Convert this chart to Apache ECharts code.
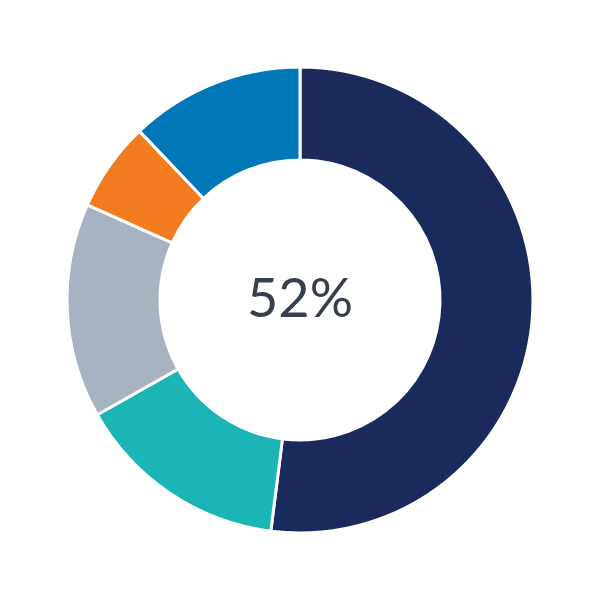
<!DOCTYPE html>
<html><head><meta charset="utf-8">
<script src="https://cdn.jsdelivr.net/npm/echarts@6/dist/echarts.min.js"></script>
<style>html,body{margin:0;padding:0;background:#fff}#c{width:600px;height:600px}</style>
</head><body><div id="c"></div>
<script>
var categories = ['A', 'B', 'C', 'D', 'E'];
var values = [52, 14.8, 14.9, 6.2, 12.1];
var colors = ['#1b2a5c', '#1bb5b7', '#a8b3c2', '#f37c20', '#0077b6'];
var centerLabel = '52%';

var chart = echarts.init(document.getElementById('c'), null, {renderer: 'canvas'});
chart.setOption({
  animation: false,
  backgroundColor: '#ffffff',
  title: {
    text: centerLabel, left: 'center', top: 'middle',
    textStyle: {fontFamily: 'Lato', fontWeight: 400, fontSize: 54, color: '#363f4d'}
  },
  series: [{
    type: 'pie',
    center: [300, 300],
    radius: [140, 233],
    startAngle: 90,
    clockwise: true,
    label: {show: false},
    labelLine: {show: false},
    itemStyle: {borderColor: '#ffffff', borderWidth: 3},
    emphasis: {disabled: true},
    data: categories.map(function (c, i) {
      return {name: c, value: values[i], itemStyle: {color: colors[i]}};
    })
  }]
});
</script></body></html>
